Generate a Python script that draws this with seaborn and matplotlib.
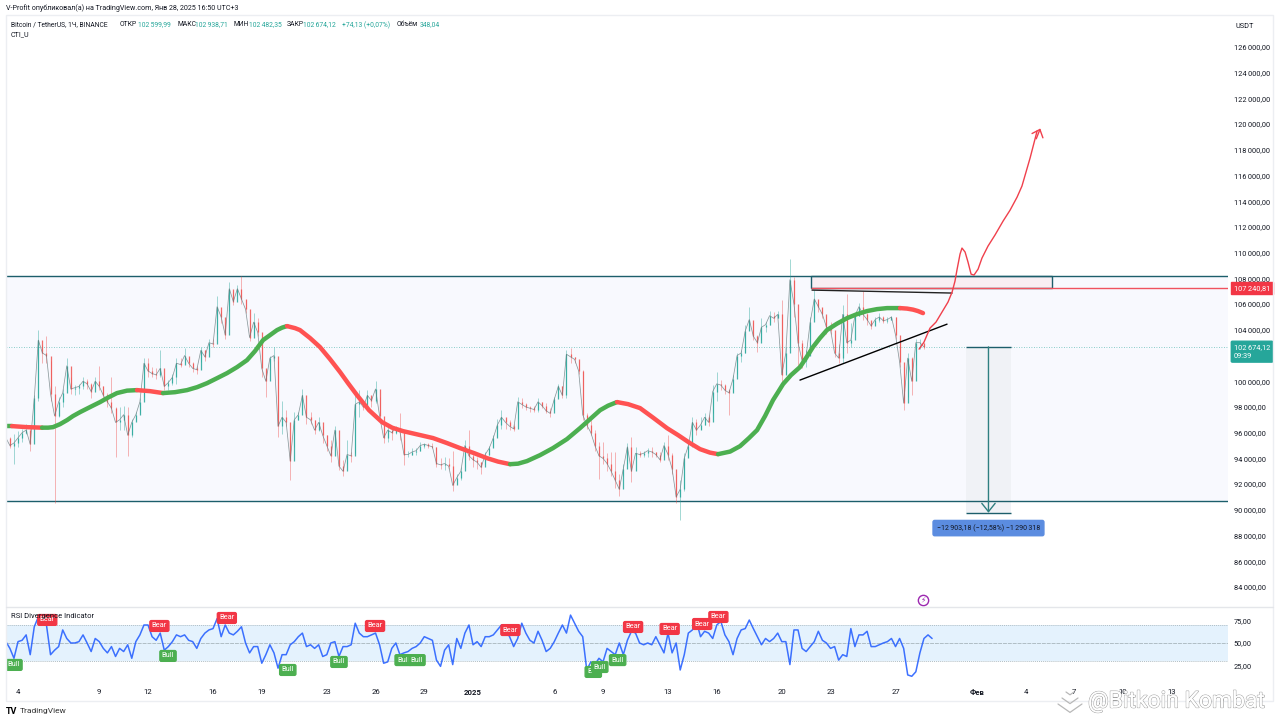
# -*- coding: utf-8 -*-
import numpy as np
import pandas as pd
import matplotlib
matplotlib.use("Agg")
import matplotlib.pyplot as plt
import matplotlib.patheffects as pe
from matplotlib.patches import Rectangle
from matplotlib.ticker import FuncFormatter
import seaborn as sns

W, H = 1280, 722

# six-hourly candles, thousands of USDT
highs = [96.2,95.7,95.9,96.1,96.3,96.7,96.5,98.9,104.0,102.8,103.5,101.6,99.6,98.8,99.4,101.8,100.3,99.7,99.8,100.3,100.2,99.9,100.3,101.2,99.6,99.1,100.3,98.0,98.0,98.1,98.0,97.1,97.6,98.7,101.8,101.8,101.1,101.0,102.4,100.4,100.1,100.6,101.8,101.8,102.6,101.8,101.5,101.2,102.7,102.4,103.3,103.3,106.6,105.5,104.6,107.7,107.0,107.5,108.2,106.3,104.8,105.3,104.9,102.7,100.9,102.0,102.7,101.6,98.5,97.8,95.7,97.6,97.6,99.4,97.6,97.6,97.0,97.2,
         96.5,95.8,95.4,96.5,94.4,93.9,95.4,94.5,98.9,99.3,98.5,99.3,98.8,100.0,98.8,96.7,96.6,96.3,96.5,97.5,95.4,94.6,94.8,94.8,95.3,95.2,95.2,95.2,94.9,94.0,94.1,94.0,94.6,92.8,93.3,95.4,96.2,94.4,94.1,93.7,94.5,95.0,95.8,97.1,97.8,97.1,97.0,96.7,98.8,98.7,98.3,98.1,98.1,98.7,98.4,98.3,97.9,98.8,99.8,99.6,102.4,102.6,101.9,101.6,100.9,97.5,97.0,96.2,95.3,95.3,94.4,94.5,94.5,92.8,93.6,95.2,95.7,94.9,94.6,94.6,94.8,94.9,94.5,94.5,95.3,95.8,94.4,92.8,92.3,94.4,95.2,97.2,97.1,
         97.2,97.5,97.4,99.7,100.7,100.1,99.8,99.4,100.5,102.2,102.4,104.4,105.8,104.6,103.6,104.9,104.6,105.5,105.4,105.5,106.3,102.7,109.5,108.1,104.2,103.2,102.4,105.0,107.1,106.3,105.7,105.1,104.6,103.7,102.9,105.9,106.8,104.5,105.3,106.1,107.0,105.3,104.6,105.0,105.3,105.1,105.0,105.1,105.0,103.2,101.1,102.2,101.9,103.3,103.3,102.94]
lows = [95.4,94.8,93.6,94.9,95.3,95.9,94.6,96.4,98.5,101.4,101.4,98.5,90.5,97.2,98.0,99.5,99.0,98.9,99.0,99.4,99.4,98.7,99.4,99.3,98.5,98.0,97.5,94.1,96.2,96.2,94.2,95.7,97.0,97.5,98.8,100.3,100.3,100.2,100.3,99.3,99.3,99.7,99.8,101.1,101.4,101.1,100.7,100.6,101.5,101.6,102.5,102.7,103.7,104.5,103.3,105.5,105.9,106.7,106.0,105.3,103.1,103.6,103.5,100.3,98.8,100.9,101.6,95.7,95.9,96.5,92.3,94.9,97.0,97.8,96.7,96.7,95.9,96.1,
        95.2,94.6,93.7,94.9,93.1,92.6,93.6,93.7,94.4,97.2,97.8,98.1,98.0,98.3,96.8,95.2,95.3,95.4,95.9,95.4,93.5,94.1,94.3,94.3,94.6,94.8,94.8,94.8,93.3,93.2,93.1,93.2,91.5,92.0,92.3,93.3,93.9,93.3,93.2,92.8,93.6,94.3,94.9,95.7,96.3,96.3,96.2,96.1,97.1,97.9,97.8,97.6,97.6,97.6,97.9,97.5,97.2,97.8,98.8,98.7,98.7,101.4,101.4,100.6,97.0,96.3,95.8,94.6,92.4,93.6,93.0,92.6,91.7,91.1,92.6,93.6,92.2,94.0,94.1,94.1,94.1,94.1,94.1,93.7,94.1,93.9,92.8,90.5,89.2,91.5,94.1,94.9,95.8,
        96.3,96.6,96.5,97.5,98.5,99.3,99.0,97.4,99.2,100.6,101.5,102.2,104.0,103.2,102.3,103.2,103.8,104.4,104.6,104.9,99.6,100.6,102.7,105.0,100.9,101.0,101.1,102.4,104.9,105.4,104.9,103.7,103.7,101.9,101.4,101.4,102.2,102.7,104.8,105.1,104.8,104.4,104.1,104.4,104.6,104.5,104.5,104.8,103.3,101.1,97.8,98.8,98.9,101.3,102.5,102.48]
closes = [95.6,95.0,95.2,95.6,96.0,96.2,95.1,98.7,103.2,102.2,102.0,99.0,97.3,98.4,99.1,101.2,99.4,99.5,99.6,100.0,99.8,99.2,100.0,99.6,98.9,98.4,97.9,96.8,97.0,97.4,95.8,96.8,97.4,98.4,101.4,100.8,100.6,100.5,101.0,99.6,99.9,100.3,101.4,101.3,102.0,101.4,101.0,100.9,102.4,101.9,103.0,102.9,105.8,105.0,103.6,107.2,106.2,107.2,106.4,105.6,103.4,104.6,103.8,101.0,100.0,101.8,102.0,96.5,97.2,96.8,93.8,97.0,97.4,98.9,97.2,97.0,96.2,96.8,
          95.8,95.0,94.2,96.2,93.4,93.0,94.3,94.2,98.2,98.4,98.0,98.9,98.5,99.4,97.3,95.6,96.2,96.0,96.4,96.1,94.3,94.3,94.5,94.6,95.0,95.1,95.0,94.9,93.6,93.5,93.6,93.4,91.9,92.5,93.0,95.0,94.2,93.9,93.7,93.3,94.3,94.8,95.6,96.6,97.2,96.8,96.5,96.3,98.4,98.2,98.0,97.9,97.8,98.4,98.1,97.7,97.5,98.6,99.6,98.9,102.1,101.9,101.7,100.8,97.4,96.6,96.0,95.0,94.2,94.0,93.6,93.0,92.3,91.6,93.2,94.9,93.0,94.4,94.3,94.4,94.6,94.5,94.3,93.9,95.0,94.3,93.2,91.0,91.6,94.0,95.0,96.8,96.2,
          96.6,97.2,96.8,99.2,99.8,99.7,99.3,99.1,100.2,102.0,102.2,103.9,104.8,103.5,103.0,104.2,104.4,105.1,104.9,105.2,100.5,102.2,107.9,106.0,103.0,101.6,102.0,104.6,106.4,105.8,105.2,104.2,104.0,102.2,101.8,105.2,103.0,103.2,105.1,105.8,105.2,104.8,104.3,104.8,105.0,104.7,104.8,105.0,103.6,101.5,98.3,101.8,100.0,103.0,103.0,102.67]

# RSI, same six-hourly steps
rsi_values = [51.5,44,33,51.5,53,59,37,68,79,72,70,37,42,46,64.5,55,50,50,51.5,59,50,40.5,55,51.5,44,39,46,35,44,40.5,48,33,51.5,59,70,70,57,53,61,42,46,51.5,59,57,59,53,51.5,44,55,61,64.5,66,77,57,70,61,59,63,68,50,39,46,46,27.5,37,48,39,22,37,37,48,51.5,57,61,46,48,44,48,35,37,50,51.5,35,46,46,48,72,61,57,57,59,61,48,27.5,29,44,50,37,39,40.5,44,46,50,57,55,53,31,24,42,48,26,55,44,61,70,48,51.5,
              46,57,57,59,64.5,70,64.5,57,46,55,72,61,53,50,63,53,40.5,44,51.5,61,70,61,81,72,63,57,20,29,26,33,29,44,40.5,37,50,37,53,63,61,50,48,50,48,57,48,39,61,39,50,20,37,61,64.5,74,57,63,61,55,70,74,59,51.5,37,55,64.5,66,75.5,66,57,48,55,51.5,55,61,51.5,51.5,26,64.5,64.5,44,40.5,46,51.5,63,53,50,44,46,31,37,35,66,46,59,59,63,46,46,48,50,51.5,55,46,55,44,14.5,13,18,39,55,59,55]

bull_days = [3.75,13.23,20.6,23.75,27.7,28.55,39.4,39.8,40.9]
bull_rsi = [25.6,35.6,20,28.9,31,31,17.8,23.3,31]
bear_days = [5.8,12.7,16.85,25.97,34.3,41.85,44.1,46.1,47.1]
bear_rsi = [75.6,68.9,77.8,68.9,64.4,67.8,65.6,71.1,78.9]

# CTI_U line
cti_days = [3.26,3.63,
            4.55,5.48,
            5.85,6.15,6.58,7.02,7.38,7.82,8.43,9.05,9.54,10.09,10.71,11.32,
            12.12,12.92,
            13.66,14.4,15.02,15.63,16.25,16.86,17.48,18.09,18.58,19.08,19.51,19.94,20.25,20.55,
            21.05,21.35,21.97,22.58,23.2,23.82,24.31,24.86,25.6,26.4,27.02,27.69,28.62,29.54,30.4,31.2,32.06,32.86,33.54,34.28,
            34.77,35.32,36.12,36.92,37.78,38.58,39.2,39.82,40.31,40.86,
            41.54,42.28,43.08,43.94,44.62,45.35,45.97,46.58,47.08,
            47.82,48.43,48.98,49.48,49.97,50.46,50.77,51.08,51.57,52.12,52.49,52.92,53.35,53.78,54.4,55.02,55.63,56.25,56.86,57.48,58.28,
            58.71,59.08,59.38,59.69]
cti_prices = [96.51,96.51,
              96.43,96.39,
              96.39,96.43,96.66,96.98,97.29,97.6,97.99,98.38,98.73,99.08,99.27,99.31,
              99.23,99.08,
              99.15,99.31,99.54,99.85,100.24,100.63,101.1,101.64,102.34,103.2,103.59,103.98,104.17,104.29,
              104.13,103.98,103.36,102.66,101.72,100.71,99.85,98.92,97.75,96.82,96.39,96.12,95.85,95.58,95.19,94.8,94.41,94.02,93.75,93.55,
              93.59,93.79,94.25,94.8,95.5,96.35,97.05,97.75,98.1,98.38,
              98.22,97.91,97.17,96.35,95.81,95.19,94.72,94.45,94.33,
              94.53,94.95,95.58,96.2,97.29,98.53,99.15,99.78,100.48,101.1,101.8,102.66,103.36,103.98,104.48,104.91,105.22,105.46,105.61,105.69,105.69,
              105.65,105.57,105.46,105.3]
cti_states = ["u"] * 2 + ["d"] * 2 + ["u"] * 12 + ["d"] * 2 + ["u"] * 14 + ["d"] * 20 + ["u"] * 10 + ["d"] * 9 + ["u"] * 21 + ["d"] * 4

# hand-drawn forecast
path_days = [59.45,59.75,60.12,60.49,60.86,61.23,61.48,61.66,61.78,61.97,62.09,62.28,62.46,62.65,62.83,63.08,63.32,63.69,64.12,64.62,65.05,65.48,65.78,66.03,66.28,66.52,66.71]
path_prices = [102.5,103.04,104.13,104.6,105.38,106.16,106.93,107.79,108.65,109.89,110.36,110.05,109.27,108.33,108.26,108.72,109.58,110.51,111.37,112.46,113.31,114.32,115.18,116.27,117.36,118.53,119.46]
trend_days = [52.12,61.17]
trend_prices = [100.09,104.44]
wedge_days = [52.86,61.48]
wedge_prices = [107.09,106.86]

range_top, range_bottom = 108.22, 90.71
zone_days = [52.8,67.63]
level_price = 107.24
last_price = 102.674
measure_days = [62.34,63.72,65.11]
measure_prices = [102.67,89.77]

price_ticks = [84,86,88,90,92,94,96,98,100,104,106,108,110,112,114,116,118,120,122,124,126]
rsi_ticks = [25, 50, 75]
time_ticks = [4,9,12,16,19,23,26,29,32,37,40,44,47,51,54,58,63,66,69,72,75]
time_labels = ["4","9","12","16","19","23","26","29","2025","6","9","13","16","20","23","27","Фев","4","7","10","13"]

GREEN, RED = "#26a69a", "#ef5350"
CTI_GREEN, CTI_RED = "#4caf50", "#ff5252"
TEAL = "#1c5e6b"
INK = "#131722"
TS = "\u2009"


def px_rect(x0, y0, x1, y1):
    return [x0 / W, 1 - y1 / H, (x1 - x0) / W, (y1 - y0) / H]


def fig_text(x, y, s, **kw):
    kw.setdefault("color", INK)
    kw.setdefault("fontsize", 5.4)
    kw.setdefault("va", "center")
    fig.text(x / W, 1 - y / H, s, **kw)


sns.set_theme(style="white")
plt.rcParams["font.family"] = ["Roboto", "DejaVu Sans"]

fig = plt.figure(figsize=(W / 100, H / 100), dpi=100)
ax = fig.add_axes(px_rect(6, 15, 1228, 607))
ax_rsi = fig.add_axes(px_rect(6, 607, 1228, 685))
xlim = (3.26, 78.46)

# main pane
ax.set_xlim(*xlim)
ax.set_ylim(82.441, 128.487)
ax.axhspan(range_bottom, range_top, color="#f8f9fe", lw=0, zorder=0)
ax.axhline(range_top, color=TEAL, lw=1, zorder=2)
ax.axhline(range_bottom, color=TEAL, lw=1, zorder=2)
ax.axhline(last_price, color=GREEN, lw=0.6, ls=(0, (1, 2)), alpha=0.7, zorder=1)

# measure box
ax.fill_between(measure_days[::2], measure_prices[1], measure_prices[0], color="#f0f2f6", lw=0, zorder=1)
ax.hlines(measure_prices, measure_days[0], measure_days[2], color=TEAL, lw=1, zorder=2)
ax.annotate("", xy=(measure_days[1], measure_prices[1]), xytext=(measure_days[1], measure_prices[0]),
            arrowprops=dict(arrowstyle="->,head_length=0.5,head_width=0.4", color="#2f7f80", lw=1, shrinkA=0, shrinkB=0), zorder=3)
ax.text(measure_days[1], 88.58, f"−12{TS}903,18 (−12,58%) −1{TS}290{TS}318", ha="center", va="center", fontsize=5, color=INK,
        bbox=dict(boxstyle="round,pad=0.55,rounding_size=0.25", fc="#5b8ce0", ec="#5b8ce0"), zorder=6)

# supply zone
ax.add_patch(Rectangle((zone_days[0], level_price), zone_days[1] - zone_days[0], range_top - level_price,
                       fc="#f9eef3", ec=TEAL, lw=1, zorder=1.5))
ax.hlines(level_price, zone_days[0], xlim[1], color="#f0525f", lw=1, zorder=2)

# candles
days = 3.25 + 0.25 * np.arange(len(closes))
candles = pd.DataFrame({"day": days, "high": highs, "low": lows, "close": closes})
candles["open"] = candles["close"].shift(1).fillna(candles["close"])
candles["up"] = candles["close"] >= candles["open"]
for is_up, part in candles.groupby("up"):
    col = GREEN if is_up else RED
    ax.vlines(part["day"], part["low"], part["high"], color=col, lw=0.6, alpha=0.5, zorder=3)
    ax.vlines(part["day"], part[["open", "close"]].min(axis=1), part[["open", "close"]].max(axis=1),
              color=col, lw=0.9, alpha=0.85, zorder=3.2)
sns.lineplot(data=candles, x="day", y="close", color="#66797b", lw=0.55, alpha=0.75, ax=ax, zorder=3.3)

# CTI_U
cti = pd.DataFrame({"day": cti_days, "price": cti_prices, "state": cti_states})
cti["seg"] = (cti["state"] != cti["state"].shift()).cumsum()
for seg, part in cti.groupby("seg"):
    state = part["state"].iloc[0]
    if seg > 1:
        part = pd.concat([cti[cti["seg"] == seg - 1].tail(1), part])
    sns.lineplot(data=part, x="day", y="price", sort=False, estimator=None, color=CTI_GREEN if state == "u" else CTI_RED,
                 lw=3.2, ax=ax, zorder=4, solid_capstyle="round")

# drawings
sns.lineplot(x=trend_days, y=trend_prices, color="black", lw=1, ax=ax, zorder=5)
sns.lineplot(x=wedge_days, y=wedge_prices, color="#222222", lw=1, ax=ax, zorder=5)
sns.lineplot(x=path_days, y=path_prices, sort=False, estimator=None, color="#f0404c", lw=1, ax=ax, zorder=5)
ax.annotate("", xy=(path_days[-1] + 0.2, path_prices[-1] + 0.2), xytext=(path_days[-1] - 0.05, path_prices[-1] - 0.6),
            arrowprops=dict(arrowstyle="->,head_length=0.4,head_width=0.35", color="#f0404c", lw=1, shrinkA=0, shrinkB=0), zorder=5)

ax.scatter([59.7], [83.0], s=55, fc="white", ec="#9c27b0", lw=1, zorder=5)
ax.text(59.7, 83.0, "⚡", ha="center", va="center", fontsize=5.5, color="#9c27b0", family="DejaVu Sans", zorder=6)

ax.yaxis.tick_right()
ax.set_yticks(price_ticks)
ax.yaxis.set_major_formatter(FuncFormatter(lambda v, _: f"{v:.0f}{TS}000,00"))
ax.tick_params(axis="y", length=0, pad=4, labelsize=5.3, labelcolor=INK)
ax.set_xticks([])
ax.set_xlabel("")
ax.set_ylabel("")

# price labels on the scale
lab = ax.get_yaxis_transform()
ax.text(1.0048, level_price, f"107{TS}240,81", transform=lab, ha="left", va="center", fontsize=5.3, color="white",
        bbox=dict(boxstyle="square,pad=0.35", fc="#f23645", ec="#f23645"), zorder=7, clip_on=False)
ax.text(1.0048, 102.3, f"102{TS}674,12\n09:39", transform=lab, ha="left", va="center", fontsize=5.3, color="white", linespacing=1.35,
        bbox=dict(boxstyle="round,pad=0.35,rounding_size=0.15", fc=GREEN, ec=GREEN), zorder=7, clip_on=False)

# RSI pane
ax_rsi.set_xlim(*xlim)
ax_rsi.set_ylim(3.3, 90)
ax_rsi.axhspan(30, 70, color="#e3f2fd", lw=0, alpha=0.95, zorder=0)
for level, dash in [(70, (1, 1)), (50, (4, 1)), (30, (1, 1))]:
    ax_rsi.axhline(level, color="#b0bec5", lw=0.7, ls=(0, dash), zorder=1)
rsi_days = 3.25 + 0.25 * np.arange(len(rsi_values))
sns.lineplot(x=rsi_days, y=rsi_values, color="#2962ff", lw=1.1, ax=ax_rsi, alpha=0.9, zorder=3)
for d, v in zip(bull_days, bull_rsi):
    ax_rsi.text(d, v, "Bull", ha="center", va="center", fontsize=5.4, color="white", zorder=4, clip_on=True,
                bbox=dict(boxstyle="round,pad=0.25,rounding_size=0.2", fc="#4caf50", ec="#4caf50"))
for d, v in zip(bear_days, bear_rsi):
    ax_rsi.text(d, v, "Bear", ha="center", va="center", fontsize=5.4, color="white", zorder=4,
                bbox=dict(boxstyle="round,pad=0.25,rounding_size=0.2", fc="#f23645", ec="#f23645"))
ax_rsi.yaxis.tick_right()
ax_rsi.set_yticks(rsi_ticks)
ax_rsi.yaxis.set_major_formatter(FuncFormatter(lambda v, _: f"{v:.0f},00"))
ax_rsi.set_xticks(time_ticks)
ax_rsi.set_xticklabels(time_labels)
ax_rsi.tick_params(axis="y", length=0, pad=4, labelsize=5.3, labelcolor=INK)
ax_rsi.tick_params(axis="x", length=0, pad=3, labelsize=5.6, labelcolor=INK)
for t in ax_rsi.get_xticklabels():
    if t.get_text() in ("2025", "Фев"):
        t.set_fontweight("bold")
ax_rsi.set_xlabel("")
ax_rsi.set_ylabel("")
ax_rsi.text(0.004, 0.88, "RSI Divergence Indicator", transform=ax_rsi.transAxes, fontsize=5.5, color=INK, va="center", zorder=5)

for a in (ax, ax_rsi):
    a.set_facecolor("white")
    sns.despine(ax=a, left=True, right=True, top=True, bottom=True)

# frame and pane separator
fig.add_artist(Rectangle((6 / W, 1 - 701 / H), 1267 / W, 686 / H, transform=fig.transFigure, fill=False, ec="#eceef2", lw=1))
fig.add_artist(plt.Line2D([6 / W, 1273 / W], [1 - 607 / H] * 2, color="#e4e6ea", lw=1))

# header
fig_text(6, 8, "V-Profit опубликовал(а) на TradingView.com, Янв 28, 2025 16:50 UTC+3", fontsize=5.1)
for x, s, c in [(11, "Bitcoin / TetherUS, 1Ч, BINANCE", INK), (120, "ОТКР", INK), (138, f"102{TS}599,99", GREEN),
                (177, "МАКС", INK), (195, f"102{TS}938,71", GREEN), (234, "МИН", INK), (249, f"102{TS}482,35", GREEN),
                (287, "ЗАКР", INK), (303, f"102{TS}674,12", GREEN), (342, "+74,13 (+0,07%)", GREEN),
                (397, "Объём", INK), (420, "348,04", GREEN)]:
    fig_text(x, 25, s, color=c, fontsize=4.9)
fig_text(11, 35, "CTI_U", fontsize=5.1)
fig_text(1236, 27, "USDT", fontsize=5.3)

# footer
fig_text(6, 711, "TV", fontsize=6.5, fontweight="bold", color="black")
fig_text(20, 711, "TradingView", fontsize=6, color="#333333")

# watermark
fig_text(1088, 701, "@Bitkoin Kombat", fontsize=16.5, color="white", alpha=0.95,
         path_effects=[pe.withStroke(linewidth=0.9, foreground="#9a9a9a"), pe.Normal()])
for dy, half in [(0, 4), (6, 8), (12, 12)]:
    fig.add_artist(plt.Line2D([(1070 - half) / W, 1070 / W, (1070 + half) / W],
                              [1 - (692 + dy) / H, 1 - (692 + dy + half * 0.7) / H, 1 - (692 + dy) / H],
                              color="#b8b8b8", lw=0.9))

fig.savefig("out.png", dpi=100)
